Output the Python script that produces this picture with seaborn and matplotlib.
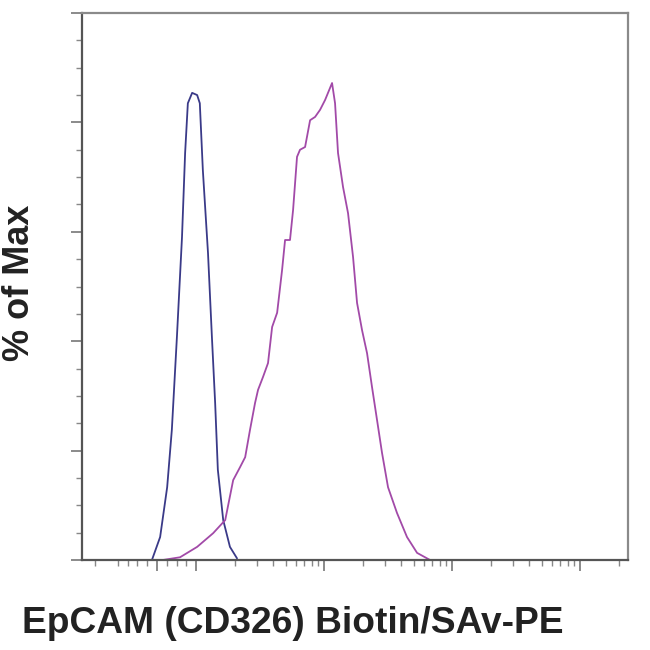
import numpy as np
import pandas as pd
import matplotlib
matplotlib.use("Agg")
import matplotlib.pyplot as plt
import seaborn as sns

# isotype control (blue) - fluorescence intensity vs % of max
ctrl_x = [-13, 8, 26, 38, 51, 64, 72, 79, 90, 102, 107, 113, 124, 133, 141, 148, 163, 184, 209]
ctrl_y = [0.0, 4.2, 13.3, 23.8, 40.8, 59.0, 74.4, 83.5, 85.4, 85.0, 83.5, 71.3, 56.1, 40.8, 28.7, 16.5, 7.3, 2.4, 0.3]

# EpCAM stained (purple)
epcam_x = [15, 59, 102, 136, 169, 195, 221, 242, 264, 289, 305, 334, 365, 393, 430, 470, 496, 542,
           573, 615, 649, 711, 778, 851, 931, 1019, 1155, 1219, 1286, 1407, 1540, 1685, 1811, 1982,
           2168, 2371, 2594, 2837, 3162, 3715, 4447, 5333, 6730]
epcam_y = [0.0, 0.5, 2.4, 4.9, 7.3, 14.6, 17.0, 18.8, 23.8, 28.7, 31.1, 33.5, 36.0, 42.6, 45.2, 53.0,
           58.5, 58.5, 64.0, 73.7, 75.0, 75.5, 80.4, 81.0, 82.3, 84.1, 87.2, 83.5, 74.4, 68.2, 63.4,
           55.4, 47.0, 42.0, 37.8, 31.6, 25.6, 19.6, 13.3, 8.6, 4.2, 1.3, 0.0]

x_major = [0, 100, 1000, 10000, 100000]
x_minor = [-150, -100, -75, -50, -25, 25, 50, 75] + \
          [m * 10 ** k for k in (2, 3, 4) for m in range(2, 10)] + [200000]

sns.set_style("ticks")
plt.rcParams['font.family'] = ['Liberation Sans', 'DejaVu Sans']

fig = plt.figure(figsize=(6.5, 6.5), dpi=100)
ax = fig.add_axes([82 / 650, 1 - 560 / 650, (628 - 82) / 650, (560 - 13) / 650])

ctrl = pd.DataFrame({"x": ctrl_x, "y": ctrl_y})
epcam = pd.DataFrame({"x": epcam_x, "y": epcam_y})
sns.lineplot(data=ctrl, x="x", y="y", ax=ax, color="#3a3a88", linewidth=1.3, sort=False)
sns.lineplot(data=epcam, x="x", y="y", ax=ax, color="#a24aa8", linewidth=1.3, sort=False)

ax.set_xscale("symlog", linthresh=100, linscale=0.2745)
ax.set_xlim(-191, 237000)
ax.set_ylim(0, 100)

ax.set_xticks(x_major)
ax.set_xticks(x_minor, minor=True)
ax.set_yticks(np.arange(0, 101, 20))
ax.set_yticks(np.arange(0, 101, 5), minor=True)
ax.set_xticklabels([])
ax.set_yticklabels([])
ax.set_xlabel("")
ax.set_ylabel("")

ax.tick_params(which="major", length=8, width=1.2, color="#777777")
ax.tick_params(which="minor", length=4, width=1.0, color="#888888")

for side in ["left", "bottom"]:
    ax.spines[side].set_color("#555555")
    ax.spines[side].set_linewidth(1.6)
for side in ["top", "right"]:
    ax.spines[side].set_visible(True)
    ax.spines[side].set_color("#8a8a8a")
    ax.spines[side].set_linewidth(1.6)

fig.text(22 / 650, 1 - 633 / 650, "EpCAM (CD326) Biotin/SAv-PE", ha="left", va="baseline",
         fontsize=26.7, fontweight="bold", color="#222222")
fig.text(20 / 650, 1 - 283 / 650, "% of Max", ha="center", va="center", rotation=90,
         fontsize=26, fontweight="bold", color="#222222")

fig.savefig("out.png", dpi=100)
